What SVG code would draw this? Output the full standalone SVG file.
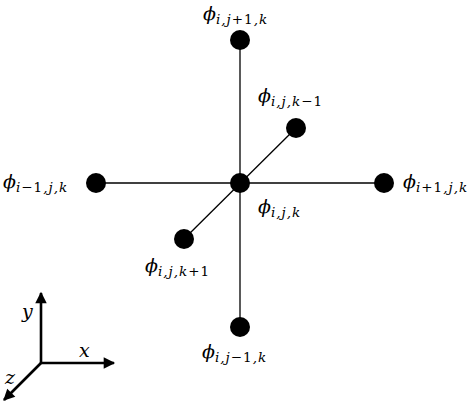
<svg xmlns="http://www.w3.org/2000/svg" width="474" height="405" viewBox="0 0 474 405">
<defs>
<style>
.lbl{font-family:"DejaVu Serif","Liberation Serif",serif;font-style:italic;font-size:19px;fill:#000}
.sub{font-size:13.5px;letter-spacing:1px}
.up{font-style:normal}
.edge{stroke:#000;stroke-width:1.3;fill:none}
.axis{stroke:#000;stroke-width:2.6;fill:none}
.node{fill:#000}
</style>
<marker id="ah" viewBox="0 0 10 10" refX="9" refY="5" markerWidth="5" markerHeight="4.4" markerUnits="strokeWidth" orient="auto">
<path d="M0,0 L10,5 L0,10 Z" fill="#000"/>
</marker>
</defs>
<rect width="474" height="405" fill="#fff"/>
<g id="connectors">
<line class="edge" x1="240" y1="40" x2="240" y2="327"/>
<line class="edge" x1="96" y1="183" x2="384" y2="183"/>
<line class="edge" x1="184" y1="239" x2="296" y2="128"/>
</g>
<g id="axes">
<line class="axis" x1="41" y1="364" x2="41" y2="293" marker-end="url(#ah)"/>
<line class="axis" x1="40" y1="363" x2="114" y2="363" marker-end="url(#ah)"/>
<line class="axis" x1="41" y1="363" x2="4" y2="400" marker-end="url(#ah)"/>
<text class="lbl" x="22" y="318">y</text>
<text class="lbl" x="79" y="357">x</text>
<text class="lbl" x="5" y="384">z</text>
</g>
<g id="n_center"><circle class="node" cx="240" cy="183" r="10"/>
<text class="lbl" x="258" y="213">ϕ<tspan class="sub" dy="4">i,j,k</tspan></text></g>
<g id="n_top"><circle class="node" cx="240" cy="40" r="10"/>
<text class="lbl" x="203" y="20">ϕ<tspan class="sub" dy="4">i,j<tspan class="up">+1</tspan>,k</tspan></text></g>
<g id="n_bottom"><circle class="node" cx="240" cy="327" r="10"/>
<text class="lbl" x="202" y="358">ϕ<tspan class="sub" dy="4">i,j<tspan class="up">−1</tspan>,k</tspan></text></g>
<g id="n_left"><circle class="node" cx="96" cy="183" r="10"/>
<text class="lbl" x="3" y="188">ϕ<tspan class="sub" dy="4">i<tspan class="up">−1</tspan>,j,k</tspan></text></g>
<g id="n_right"><circle class="node" cx="384" cy="183" r="10"/>
<text class="lbl" x="403" y="188">ϕ<tspan class="sub" dy="4">i<tspan class="up">+1</tspan>,j,k</tspan></text></g>
<g id="n_back"><circle class="node" cx="296" cy="128" r="10"/>
<text class="lbl" x="258" y="102">ϕ<tspan class="sub" dy="4">i,j,k<tspan class="up">−1</tspan></tspan></text></g>
<g id="n_front"><circle class="node" cx="184" cy="239" r="10"/>
<text class="lbl" x="145" y="272">ϕ<tspan class="sub" dy="4">i,j,k<tspan class="up">+1</tspan></tspan></text></g>
</svg>
